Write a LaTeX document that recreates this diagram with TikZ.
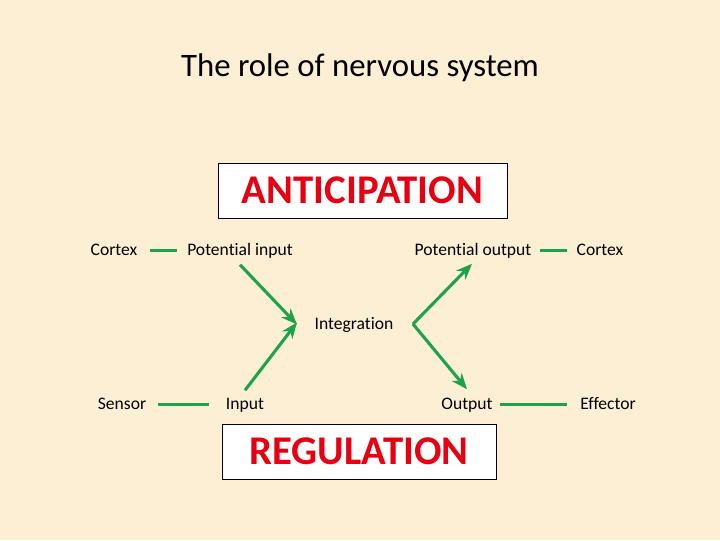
\documentclass[tikz,border=0pt]{standalone}
\usepackage{fontspec}
\setmainfont{Carlito}[Ligatures=NoCommon]
\usepackage{xcolor}
\usepackage{tikz}
\usetikzlibrary{arrows.meta,calc}
\definecolor{parsomen}{HTML}{FCEFD4}
\definecolor{yesil}{HTML}{1FA24C}
\definecolor{kirmizi}{HTML}{E60012}

\begin{document}
\begin{tikzpicture}[x=0.025cm,y=-0.025cm,
  etiket/.style={font=\fontsize{12.5}{15}\selectfont,inner sep=1pt,
                 text height=1.6ex,text depth=.35ex},
  kutu/.style={draw=black,fill=white,thin,inner sep=0pt,
               font=\fontsize{29}{33}\selectfont\bfseries,text=kirmizi},
  cizgi/.style={yesil,line width=2.2pt},
  ok/.style={-{Stealth[length=4mm,width=3.2mm]},yesil,line width=2.2pt}]
\fill[parsomen] (0,0) rectangle (720,540);
\useasboundingbox (0,0) rectangle (720,540);
\node[font=\fontsize{23.3}{27}\selectfont] (baslik) at (360,68) {The role of nervous system};
\node[kutu,minimum width=289*0.025cm,minimum height=55*0.025cm] (ant) at (362.5,190.5) {ANTICIPATION};
\node[kutu,minimum width=274*0.025cm,minimum height=55*0.025cm] (reg) at (359,451.5) {REGULATION};
% ust sira
\node[etiket] (korL) at (114,251.5) {Cortex};
\node[etiket] (pin) at (240,251.5) {Potential input};
\node[etiket] (pout) at (473,251.5) {Potential output};
\node[etiket] (korR) at (600,251.5) {Cortex};
% orta
\node[etiket] (ent) at (354,325.5) {Integration};
\coordinate (dal) at (413,324);
% alt sira
\node[etiket] (sen) at (122,405.5) {Sensor};
\node[etiket] (inp) at (245,405.5) {Input};
\node[etiket] (out) at (467,405.5) {Output};
\node[etiket] (eff) at (608,405.5) {Effector};
\draw[cizgi] ($(korL.east)+(11,-1)$) -- ($(pin.west)+(-9,-1)$);
\draw[cizgi] ($(pout.east)+(7,-1)$) -- ($(korR.west)+(-8,-1)$);
\draw[cizgi] ($(sen.east)+(10,-1)$) -- ($(inp.west)+(-15,-1)$);
\draw[cizgi] ($(out.east)+(6,-1)$) -- ($(eff.west)+(-12,-1)$);
\draw[ok] ($(pin.south)+(0,5)$) -- ($(ent.west)+(-16,-1)$);
\draw[ok] ($(inp.north)+(0,-7)$) -- ($(ent.west)+(-16,-3)$);
\draw[ok] (dal) -- ($(pout.south)+(-1,4)$);
\draw[ok] (dal) -- ($(out.north)+(0,-8)$);
\end{tikzpicture}
\end{document}
